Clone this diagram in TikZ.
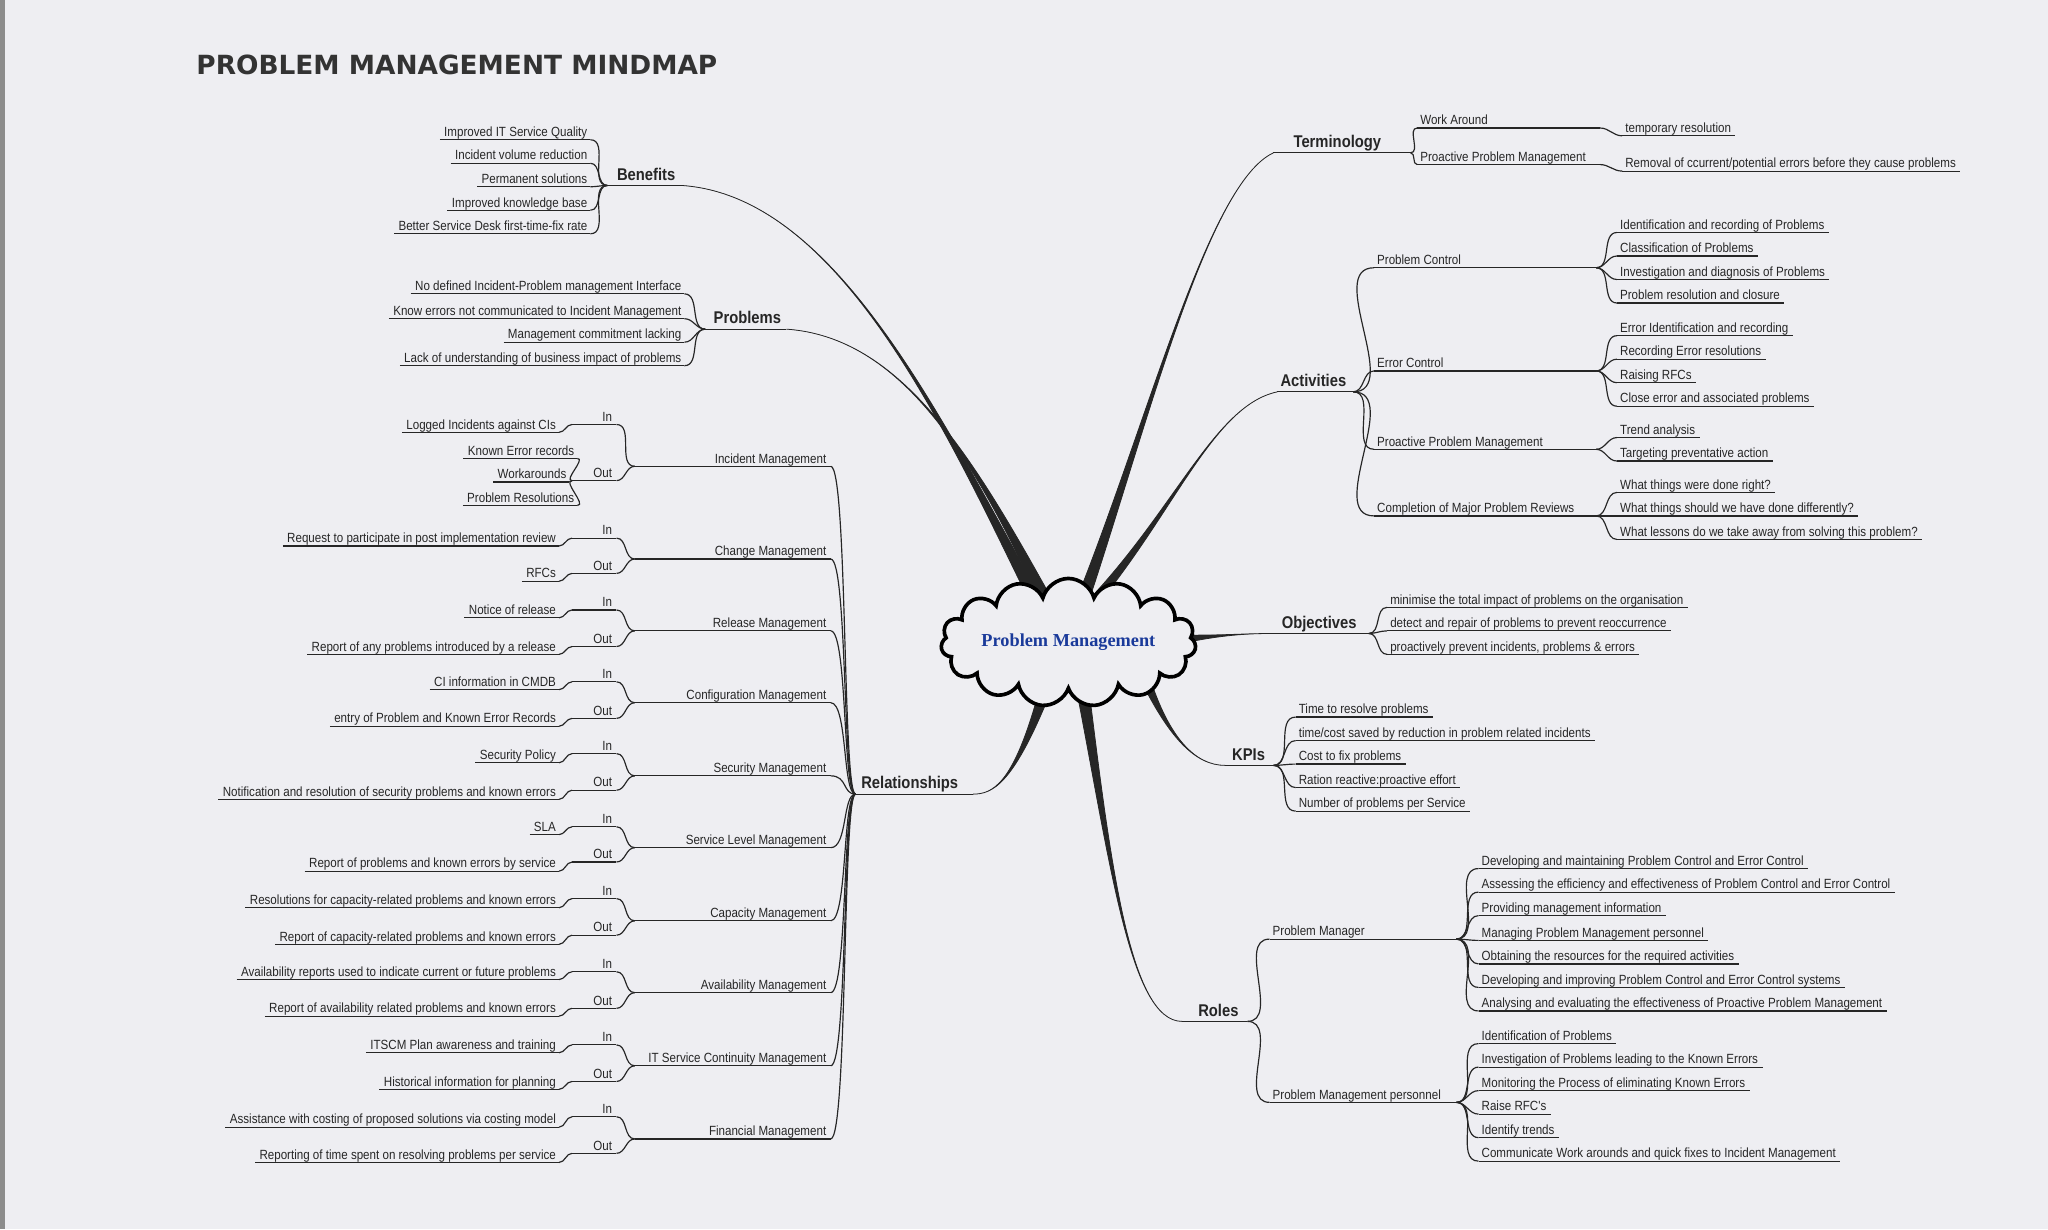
\documentclass[tikz,border=0pt]{standalone}
\usepackage{fontspec}
\usetikzlibrary{shapes.symbols,calc}
\newfontfamily\lfont[FakeStretch=0.87]{Liberation Sans}
\newfontfamily\tfont{DejaVu Sans}
\newfontfamily\cfont{Liberation Serif}
\definecolor{bg}{HTML}{EEEEF2}
\definecolor{cblue}{HTML}{1A3A9A}
\tikzset{
 lf/.style={font=\lfont\fontsize{5.1}{6}\selectfont, inner sep=0pt, text=black!85},
 hd/.style={font=\lfont\bfseries\fontsize{6.5}{7.5}\selectfont, inner sep=0pt, text=black!85},
 ln/.style={line width=0.45pt, black!85},
 br/.style={fill=black!85, draw=black!85, line width=0.3pt}
}
\newcommand\mmRB[6]{%
 \coordinate (#1s) at (#3,#5); \coordinate (#1e) at (#4,#5);
 \node[lf,anchor=base west] (#1) at (#3+2,#5-2.5) {#6};
 \draw[ln] (#1s) -- (#1e);
 \draw[ln] (#2) to[out=0,in=180] (#1s);}
\newcommand\mmRL[5]{%
 \node[lf,anchor=base west] (#1) at (#3+2,#4-2.5) {#5};
 \coordinate (#1s) at (#3,#4); \coordinate (#1e) at (#1.east|-#1s);
 \draw[ln] (#1s) -- ([xshift=1.5pt]#1e);
 \draw[ln] (#2) to[out=0,in=180] (#1s);}
\newcommand\mmLB[6]{%
 \coordinate (#1s) at (#3,#5); \coordinate (#1e) at (#4,#5);
 \node[lf,anchor=base east] (#1) at (#4-3,#5-2.5) {#6};
 \draw[ln] (#1s) -- (#1e);
 \draw[ln] (#1e) to[out=0,in=180] (#2);}
\newcommand\mmSys[3]{%
 \coordinate (#1s) at (486,#2); \coordinate (#1e) at (636,#2);
 \node[lf,anchor=base east] (#1) at (633,#2-2.5) {#3};
 \draw[ln] (#1s) -- (#1e);
 \draw[ln] (#1e) .. controls ($(#1e)+(13,0)$) and ($(relS)+(-10,0)$) .. (relS);}
\newcommand\mmLL[5]{%
 \node[lf,anchor=base east] (#1) at (#3-2,#4-2.5) {#5};
 \coordinate (#1e) at (#3,#4); \coordinate (#1s) at (#1.west|-#1e);
 \draw[ln] ([xshift=-1.5pt]#1s) -- (#1e);
 \draw[ln] (#1e) to[out=0,in=180] (#2);}
\newcommand\mmRel[9]{%
 \mmSys{s#1}{#2}{#3}
 \mmLB{i#1}{s#1s}{438}{472}{#4}{In}
 \mmLB{o#1}{s#1s}{438}{472}{#7}{Out}
 \mmLL{li#1}{i#1s}{428}{#5}{#6}
 \mmLL{lo#1}{o#1s}{428}{#8}{#9}}
\newcommand\taper[5]{%
 \fill[br] ($#1+#5$) .. controls #2 and #3 .. #4 .. controls #3 and #2 .. ($#1-#5$) -- cycle;}
\begin{document}
\begin{tikzpicture}[x=0.5pt,y=-0.5pt]
\path[fill=bg] (0,0) rectangle (1568,941);
\fill[black!45] (0,0) rectangle (4,941);
\node[font=\tfont\bfseries\fontsize{10.1}{12}\selectfont, anchor=base west, inner sep=0pt, text=black!80] (title) at (150,57) {PROBLEM MANAGEMENT MINDMAP};

% headings
\coordinate (termS) at (975,117); \coordinate (termE) at (1080,117);
\node[hd,anchor=base west] (termT) at (990,113) {Terminology}; \draw[ln] (termS)--(termE);
\coordinate (actS) at (978,300); \coordinate (actE) at (1036,300);
\node[hd,anchor=base west] (actT) at (980,296) {Activities}; \draw[ln] (actS)--(actE);
\coordinate (objS) at (975,485); \coordinate (objE) at (1048,485);
\node[hd,anchor=base west] (objT) at (981,481) {Objectives}; \draw[ln] (objS)--(objE);
\coordinate (kpiS) at (938,586); \coordinate (kpiE) at (975,586);
\node[hd,anchor=base west] (kpiT) at (943,582) {KPIs}; \draw[ln] (kpiS)--(kpiE);
\coordinate (rolS) at (905,782); \coordinate (rolE) at (955,782);
\node[hd,anchor=base west] (rolT) at (917,778) {Roles}; \draw[ln] (rolS)--(rolE);
\coordinate (benS) at (465,142); \coordinate (benE) at (522,142);
\node[hd,anchor=base west] (benT) at (472,138) {Benefits}; \draw[ln] (benS)--(benE);
\coordinate (proS) at (540,252); \coordinate (proE) at (602,252);
\node[hd,anchor=base west] (proT) at (546,248) {Problems}; \draw[ln] (proS)--(proE);
\coordinate (relS) at (655,608); \coordinate (relE) at (745,608);
\node[hd,anchor=base west] (relT) at (659,604) {Relationships}; \draw[ln] (relS)--(relE);

% tapered main branches
\taper{(828,462)}{(880,320)}{(925,140)}{(termS)}{(5,0)}
\taper{(836,462)}{(900,390)}{(930,310)}{(actS)}{(5,0)}
\taper{(898,490)}{(930,487)}{(950,485)}{(objS)}{(0,4)}
\taper{(876,518)}{(895,565)}{(915,586)}{(kpiS)}{(4,0)}
\taper{(828,522)}{(850,660)}{(865,782)}{(rolS)}{(5,0)}
\taper{(792,458)}{(720,320)}{(640,150)}{(benE)}{(5,0)}
\taper{(800,458)}{(745,350)}{(690,258)}{(proE)}{(5,0)}
\taper{(797,538)}{(775,600)}{(760,608)}{(relE)}{(4,0)}

\node[cloud, cloud puffs=15, aspect=2.7, draw, line width=1.4pt, fill=bg, minimum width=86pt, minimum height=33pt, inner sep=0pt, font=\cfont\bfseries\fontsize{7}{8}\selectfont, text=cblue] (center) at (818,492) {Problem Management};

% Terminology
\mmRB{wa}{termE}{1085}{1225}{98}{Work Around}
\mmRB{ppm}{termE}{1085}{1225}{126}{Proactive Problem Management}
\mmRL{tr}{wae}{1242}{104}{temporary resolution}
\mmRL{rem}{ppme}{1242}{131}{Removal of ccurrent/potential errors before they cause problems}

% Activities
\mmRB{pc}{actE}{1052}{1222}{205}{Problem Control}
\mmRB{ec}{actE}{1052}{1222}{284}{Error Control}
\mmRB{pp}{actE}{1052}{1222}{344}{Proactive Problem Management}
\mmRB{cm}{actE}{1052}{1222}{395}{Completion of Major Problem Reviews}
\mmRL{pc1}{pce}{1238}{178}{Identification and recording of Problems}
\mmRL{pc2}{pce}{1238}{196}{Classification of Problems}
\mmRL{pc3}{pce}{1238}{214}{Investigation and diagnosis of Problems}
\mmRL{pc4}{pce}{1238}{232}{Problem resolution and closure}
\mmRL{ec1}{ece}{1238}{257}{Error Identification and recording}
\mmRL{ec2}{ece}{1238}{275}{Recording Error resolutions}
\mmRL{ec3}{ece}{1238}{293}{Raising RFCs}
\mmRL{ec4}{ece}{1238}{311}{Close error and associated problems}
\mmRL{pp1}{ppe}{1238}{335}{Trend analysis}
\mmRL{pp2}{ppe}{1238}{353}{Targeting preventative action}
\mmRL{cm1}{cme}{1238}{377}{What things were done right?}
\mmRL{cm2}{cme}{1238}{395}{What things should we have done differently?}
\mmRL{cm3}{cme}{1238}{413}{What lessons do we take away from solving this problem?}

% Objectives
\mmRL{ob1}{objE}{1062}{465}{minimise the total impact of problems on the organisation}
\mmRL{ob2}{objE}{1062}{483}{detect and repair of problems to prevent reoccurrence}
\mmRL{ob3}{objE}{1062}{501}{proactively prevent incidents, problems \& errors}

% KPIs
\mmRL{k1}{kpiE}{992}{549}{Time to resolve problems}
\mmRL{k2}{kpiE}{992}{567}{time/cost saved by reduction in problem related incidents}
\mmRL{k3}{kpiE}{992}{585}{Cost to fix problems}
\mmRL{k4}{kpiE}{992}{603}{Ration reactive:proactive effort}
\mmRL{k5}{kpiE}{992}{621}{Number of problems per Service}

% Roles
\mmRB{pm}{rolE}{972}{1115}{719}{Problem Manager}
\mmRB{pmp}{rolE}{972}{1115}{844}{Problem Management personnel}
\mmRL{pm1}{pme}{1132}{665}{Developing and maintaining Problem Control and Error Control}
\mmRL{pm2}{pme}{1132}{683}{Assessing the efficiency and effectiveness of Problem Control and Error Control}
\mmRL{pm3}{pme}{1132}{701}{Providing management information}
\mmRL{pm4}{pme}{1132}{720}{Managing Problem Management personnel}
\mmRL{pm5}{pme}{1132}{738}{Obtaining the resources for the required activities}
\mmRL{pm6}{pme}{1132}{756}{Developing and improving Problem Control and Error Control systems}
\mmRL{pm7}{pme}{1132}{774}{Analysing and evaluating the effectiveness of Proactive Problem Management}
\mmRL{pp1x}{pmpe}{1132}{799}{Identification of Problems}
\mmRL{pp2x}{pmpe}{1132}{817}{Investigation of Problems leading to the Known Errors}
\mmRL{pp3x}{pmpe}{1132}{835}{Monitoring the Process of eliminating Known Errors}
\mmRL{pp4x}{pmpe}{1132}{853}{Raise RFC's}
\mmRL{pp5x}{pmpe}{1132}{871}{Identify trends}
\mmRL{pp6x}{pmpe}{1132}{889}{Communicate Work arounds and quick fixes to Incident Management}

% Benefits
\mmLL{b1}{benS}{452}{107}{Improved IT Service Quality}
\mmLL{b2}{benS}{452}{125}{Incident volume reduction}
\mmLL{b3}{benS}{452}{143}{Permanent solutions}
\mmLL{b4}{benS}{452}{161}{Improved knowledge base}
\mmLL{b5}{benS}{452}{179}{Better Service Desk first-time-fix rate}

% Problems
\mmLL{q1}{proS}{524}{225}{No defined Incident-Problem management Interface}
\mmLL{q2}{proS}{524}{244}{Know errors not communicated to Incident Management}
\mmLL{q3}{proS}{524}{262}{Management commitment lacking}
\mmLL{q4}{proS}{524}{280}{Lack of understanding of business impact of problems}

% Relationships
\mmSys{s0}{357}{Incident Management}
\mmLB{i0}{s0s}{438}{472}{325}{In}
\mmLB{o0}{s0s}{438}{472}{368}{Out}
\mmLL{li0}{i0s}{428}{331}{Logged Incidents against CIs}
\mmLL{lo0a}{o0s}{442}{351}{Known Error records}
\mmLL{lo0b}{o0s}{436}{369}{Workarounds}
\mmLL{lo0c}{o0s}{442}{387}{Problem Resolutions}
\mmRel{1}{428}{Change Management}{412}{418}{Request to participate in post implementation review}{439}{445}{RFCs}
\mmRel{2}{483}{Release Management}{467}{473}{Notice of release}{495}{501}{Report of any problems introduced by a release}
\mmRel{3}{538}{Configuration Management}{522}{528}{CI information in CMDB}{550}{556}{entry of Problem and Known Error Records}
\mmRel{4}{594}{Security Management}{577}{584}{Security Policy}{605}{612}{Notification and resolution of security problems and known errors}
\mmRel{5}{649}{Service Level Management}{633}{639}{SLA}{660}{667}{Report of problems and known errors by service}
\mmRel{6}{705}{Capacity Management}{688}{695}{Resolutions for capacity-related problems and known errors}{716}{723}{Report of capacity-related problems and known errors}
\mmRel{7}{760}{Availability Management}{744}{750}{Availability reports used to indicate current or future problems}{772}{778}{Report of availability related problems and known errors}
\mmRel{8}{816}{IT Service Continuity Management}{800}{806}{ITSCM Plan awareness and training}{828}{834}{Historical information for planning}
\mmRel{9}{872}{Financial Management}{855}{863}{Assistance with costing of proposed solutions via costing model}{883}{890}{Reporting of time spent on resolving problems per service}
\end{tikzpicture}
\end{document}
